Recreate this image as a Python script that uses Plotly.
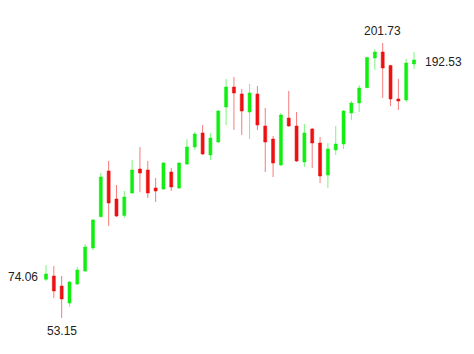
import plotly.graph_objects as go

opens  = [74.06, 75.84, 70.44, 61.25, 71.52, 78.54, 90.97, 107.9, 132.57, 117.45,
          108.5, 120.69, 133.65, 133.11, 123.39, 122.85, 132.03, 123.39, 136.36, 145.54,
          153.11, 141.22, 148.24, 167.15, 177.96, 174.18, 164.45, 174.18, 156.89, 149.86,
          135.82, 161.21, 156.89, 137.44, 155.27, 147.70, 130.41, 143.92, 147.16, 163.91,
          169.31, 177.6, 193.63, 196.87, 189.6, 171.48, 170.94, 190.39]
highs  = [81.8, 81.25, 75.84, 73.14, 80.71, 93.13, 106.64, 131.49, 137.98, 125.01,
          121.77, 138.52, 145.54, 137.98, 128.79, 137.44, 134.20, 137.2, 149.86, 153.65,
          157.43, 153.11, 165.53, 182.28, 183.36, 176.88, 179.58, 178.50, 166.61, 151.48,
          163.91, 175.80, 164.45, 157.97, 155.81, 150.94, 147.70, 156.89, 165.53, 170.40,
          179.04, 194.17, 198.49, 201.73, 189.85, 182.28, 193.09, 196.87]
lows   = [73.1, 63.96, 53.15, 59.09, 70.98, 78.0, 89.89, 107.72, 102.86, 107.72,
          107.18, 120.15, 121.23, 117.99, 115.82, 122.31, 121.77, 122.85, 135.82, 143.92,
          141.22, 138.52, 147.70, 157.43, 154.73, 152.02, 149.86, 154.73, 132.03, 129.33,
          135.28, 156.5, 137.44, 134.74, 134.20, 126.09, 123.39, 141.22, 144.46, 160.13,
          164.45, 177.42, 187.15, 172.02, 167.69, 165.53, 169.85, 187.68]
closes = [76.9, 67.74, 63.42, 72.60, 79.08, 91.51, 106.10, 129.33, 115.28, 108.26,
          118.53, 133.11, 131.49, 120.69, 121.77, 136.90, 123.93, 136.90, 145.54, 152.57,
          141.76, 150.40, 164.99, 177.96, 174.72, 164.99, 174.72, 157.43, 148.24, 136.90,
          162.83, 156.89, 137.98, 153.11, 147.70, 129.87, 144.46, 147.16, 164.99, 169.31,
          177.42, 193.9, 196.87, 188.23, 171.48, 170.40, 190.93, 192.53]
idx = list(range(len(opens)))

first_label = "74.06"
low_label = "53.15"
high_label = "201.73"
last_label = "192.53"

green = "#11ee11"
red = "#ee1111"

fig = go.Figure(go.Candlestick(
    x=idx, open=opens, high=highs, low=lows, close=closes,
    increasing=dict(line=dict(color="rgba(17,238,17,0.55)", width=1), fillcolor=green),
    decreasing=dict(line=dict(color="rgba(238,17,17,0.55)", width=1), fillcolor=red),
    whiskerwidth=0,
    opacity=1,
))

i_low = lows.index(min(lows))
i_high = highs.index(max(highs))
font = dict(family="Liberation Sans, Arial, sans-serif", size=12, color="#222222")
fig.add_annotation(x=0, y=opens[0], text=first_label, showarrow=False,
                   xanchor="right", xshift=-6, yshift=2, font=font)
fig.add_annotation(x=i_low, y=lows[i_low], text=low_label, showarrow=False,
                   yanchor="top", yshift=-4, font=font)
fig.add_annotation(x=i_high, y=highs[i_high], text=high_label, showarrow=False,
                   yanchor="bottom", yshift=3, font=font)
fig.add_annotation(x=len(idx) - 1, y=closes[-1], text=last_label, showarrow=False,
                   xanchor="left", xshift=9, yshift=-2, font=font)

fig.update_layout(
    width=474, height=354,
    margin=dict(l=0, r=0, t=0, b=0),
    paper_bgcolor="white", plot_bgcolor="white",
    showlegend=False,
    boxgap=0.45,
    xaxis=dict(visible=False, range=[-5.875, 54.66], rangeslider=dict(visible=False)),
    yaxis=dict(visible=False, range=[33.70, 224.96]),
)

fig.write_html("out.html")
